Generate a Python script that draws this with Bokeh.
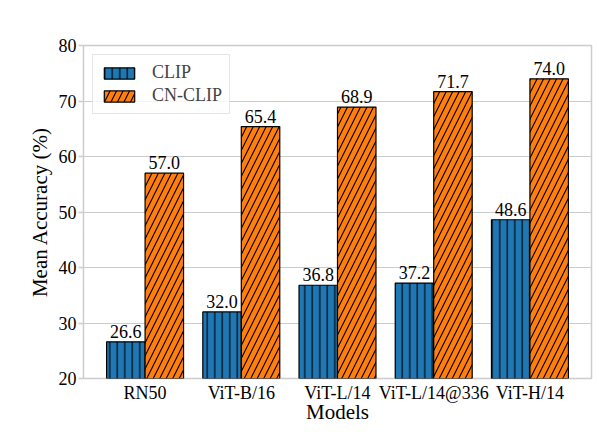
from bokeh.plotting import figure
from bokeh.models import FactorRange, ColumnDataSource, LabelSet, Legend, LegendItem, FixedTicker
from bokeh.transform import dodge
from bokeh.embed import file_html
from bokeh.resources import INLINE

models = ["RN50", "ViT-B/16", "ViT-L/14", "ViT-L/14@336", "ViT-H/14"]
clip = [26.6, 32.0, 36.8, 37.2, 48.6]
cn_clip = [57.0, 65.4, 68.9, 71.7, 74.0]
y_ticks = [20, 30, 40, 50, 60, 70, 80]

src = ColumnDataSource(data=dict(
    model=models,
    clip=clip,
    cn_clip=cn_clip,
    clip_txt=["%.1f" % v for v in clip],
    cn_txt=["%.1f" % v for v in cn_clip],
))

FONT = "Liberation Serif"

p = figure(
    width=599, height=432,
    x_range=FactorRange(factors=models, range_padding=0.056, range_padding_units="percent"),
    y_range=(20, 80),
    output_backend="svg", toolbar_location=None,
    min_border_left=83, min_border_right=8, min_border_top=45, min_border_bottom=54,
)

r1 = p.vbar(x=dodge("model", -0.2, range=p.x_range), top="clip", bottom=20, width=0.4, source=src,
            fill_color="#1f77b4", line_color="black", line_width=1.2,
            hatch_pattern="vertical_line", hatch_color="black", hatch_weight=1.1, hatch_scale=7.5)
r2 = p.vbar(x=dodge("model", 0.2, range=p.x_range), top="cn_clip", bottom=20, width=0.4, source=src,
            fill_color="#ff7f0e", line_color="black", line_width=1.2,
            hatch_pattern="right_diagonal_line", hatch_color="black", hatch_weight=1.1, hatch_scale=13)

for col, txt, off in (("clip", "clip_txt", -0.2), ("cn_clip", "cn_txt", 0.2)):
    p.add_layout(LabelSet(x=dodge("model", off, range=p.x_range), y=col, text=txt, source=src,
                          text_align="center", text_baseline="alphabetic", y_offset=4,
                          text_font=FONT, text_font_size="18px", text_color="black"))

legend = Legend(items=[LegendItem(label="CLIP", renderers=[r1]),
                       LegendItem(label="CN-CLIP", renderers=[r2])],
                location="top_left",
                label_text_font=FONT, label_text_font_size="18px",
                glyph_width=38, glyph_height=14, label_standoff=14,
                spacing=2, padding=7, margin=9,
                border_line_color="#cccccc", border_line_width=1,
                background_fill_alpha=0.8)
p.add_layout(legend)

p.yaxis.ticker = FixedTicker(ticks=y_ticks)
p.xaxis.axis_label = "Models"
p.yaxis.axis_label = "Mean Accuracy (%)"
for ax in (p.xaxis, p.yaxis):
    ax.axis_label_text_font = FONT
    ax.axis_label_text_font_size = "21px"
    ax.axis_label_text_font_style = "normal"
    ax.major_label_text_font = FONT
    ax.major_label_text_font_size = "18px"
    ax.major_label_text_color = "black"
    ax.axis_label_text_color = "black"
    ax.axis_line_color = None
    ax.minor_tick_line_color = None
    ax.major_tick_in = 0
p.xaxis.major_tick_line_color = None
p.xaxis.major_tick_out = 0
p.xaxis.major_label_standoff = 4
p.xaxis.axis_label_standoff = -6
p.yaxis.major_tick_out = 5
p.yaxis.major_tick_line_color = "#cccccc"
p.yaxis.major_tick_line_width = 1.3
p.yaxis.major_label_standoff = 2
p.yaxis.axis_label_standoff = 4

p.xgrid.grid_line_color = None
p.ygrid.grid_line_color = "#cccccc"
p.ygrid.grid_line_width = 1
p.outline_line_color = "#cccccc"
p.outline_line_width = 1.5
p.x_range.group_padding = 0

open("out.html", "w").write(file_html(p, INLINE))
